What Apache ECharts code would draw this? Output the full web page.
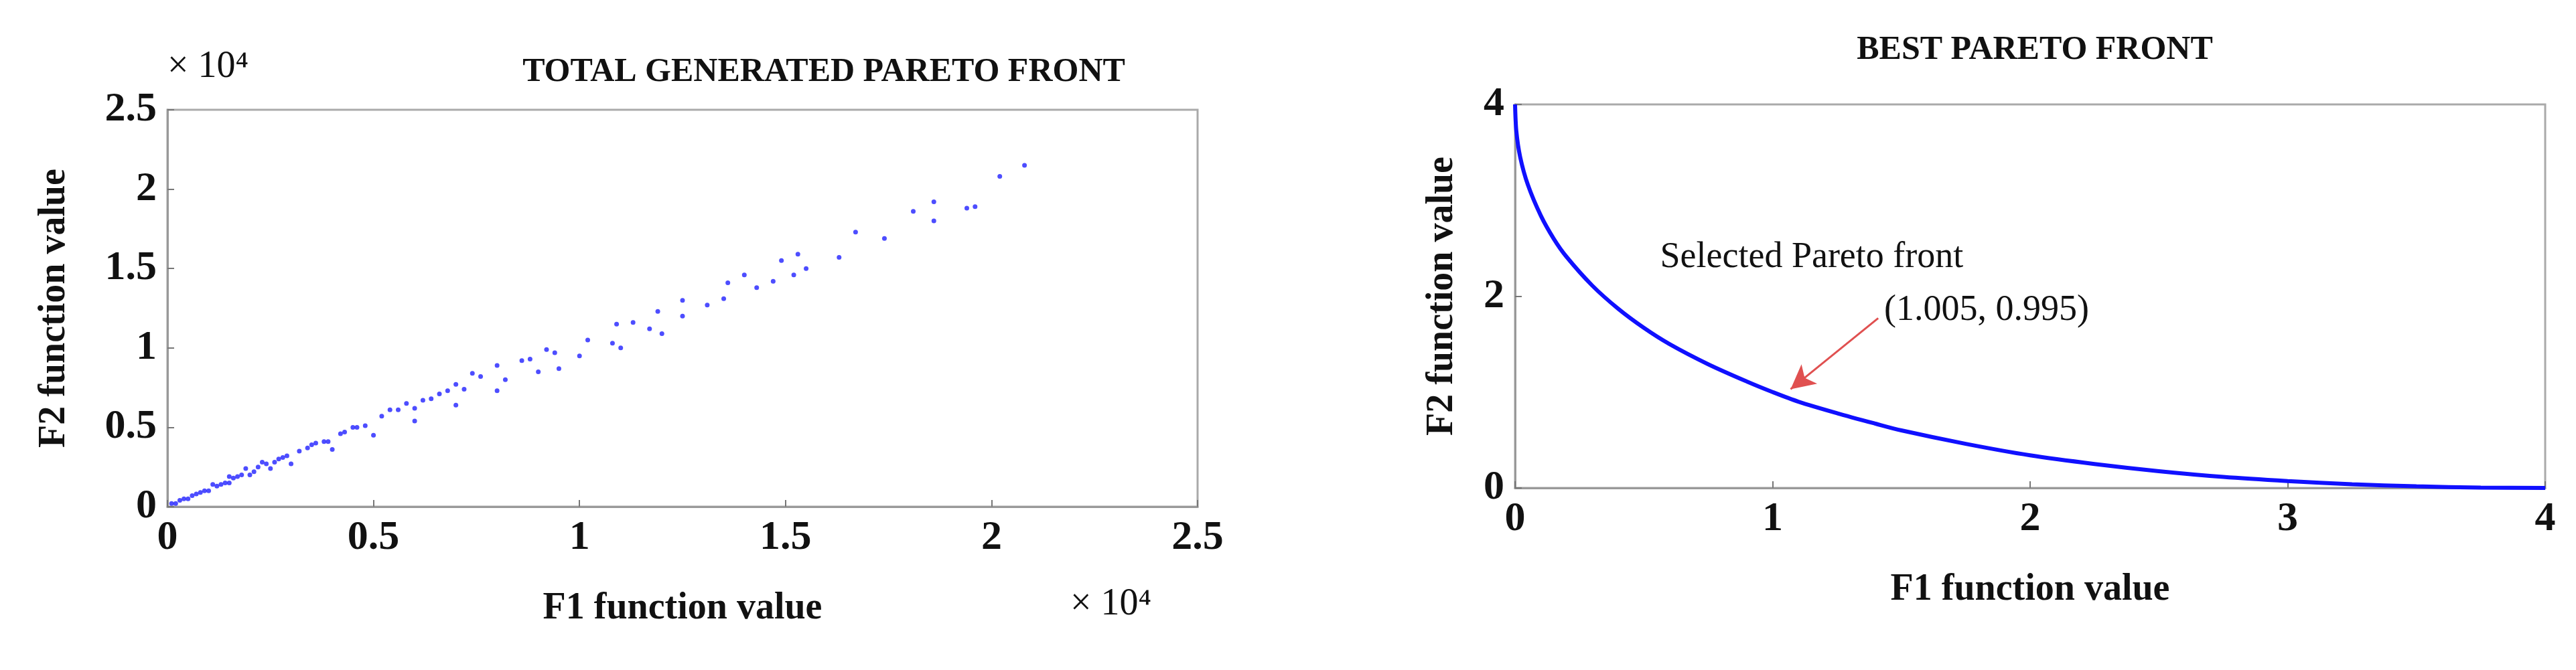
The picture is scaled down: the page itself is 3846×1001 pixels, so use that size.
<!DOCTYPE html>
<html><head><meta charset="utf-8">
<script src="https://cdn.jsdelivr.net/npm/echarts@6/dist/echarts.min.js"></script>
<style>html,body{margin:0;background:#fff}#c{width:3846px;height:1001px}</style>
</head><body><div id="c"></div>
<script>
// left: total generated front, values in units of 1e4
var totalF1 = [2.08,2.02,1.96,1.94,1.86,1.86,1.81,1.74,1.67,1.63,1.53,1.55,1.49,1.52,1.47,1.43,1.40,1.36,1.35,1.31,1.25,1.25,1.19,1.17,1.13,1.08,1.09,1.02,1.00,0.94,0.88,0.90,0.80,0.82,0.74,0.72,0.68,0.64,0.60,0.54,0.48,0.43,0.39,0.35,0.29,0.23,0.19,0.15,0.11,0.07,0.03,0.01,
  0.30,0.40,0.50,0.60,0.70,0.80,0.95,1.10,1.20,0.25,0.20,0.15,0.10,0.05,0.62,0.66,0.56,0.45,0.36,0.27,0.17,0.13,0.09,0.04,
  0.02,0.06,0.08,0.12,0.14,0.16,0.18,0.21,0.22,0.24,0.26,0.28,0.32,0.34,0.38,0.42,0.46,0.52,0.58,0.70,0.76,0.86,0.92];
var totalF2 = [2.15,2.08,1.89,1.88,1.92,1.80,1.86,1.69,1.73,1.57,1.59,1.50,1.55,1.46,1.42,1.38,1.46,1.41,1.31,1.27,1.30,1.20,1.23,1.12,1.16,1.03,1.15,1.05,0.95,0.97,0.93,0.85,0.89,0.80,0.84,0.74,0.73,0.68,0.62,0.61,0.51,0.47,0.41,0.39,0.32,0.28,0.24,0.19,0.14,0.08,0.04,0.02,
  0.27,0.36,0.45,0.54,0.64,0.73,0.87,1.00,1.09,0.24,0.20,0.15,0.10,0.05,0.67,0.71,0.61,0.50,0.40,0.30,0.19,0.14,0.10,0.05,
  0.02,0.07,0.09,0.13,0.15,0.18,0.20,0.22,0.25,0.27,0.28,0.31,0.35,0.37,0.41,0.46,0.50,0.57,0.65,0.77,0.82,0.92,0.99];
// right: best pareto front
var bestF1 = [0,0.005,0.02,0.05,0.1,0.15,0.2,0.3,0.4,0.5,0.6,0.75,0.9,1,1.1,1.25,1.4,1.5,1.75,2,2.25,2.5,2.75,3,3.25,3.5,3.75,4];
var bestF2 = [4,3.72,3.45,3.16,2.84,2.60,2.41,2.11,1.87,1.67,1.50,1.29,1.11,1.0,0.90,0.78,0.67,0.60,0.46,0.34,0.25,0.175,0.115,0.072,0.038,0.017,0.004,0];
var selected = [1.005, 0.995];

var serifB = {fontFamily:'Liberation Serif',fontWeight:'bold',color:'#111'};
function pts(a,b){return a.map(function(v,i){return [v,b[i]];});}
function axis(g,min,max,step,name,gap){
  return {gridIndex:g,type:'value',min:min,max:max,interval:step,name:name,nameLocation:'middle',nameGap:gap,
    nameTextStyle:Object.assign({fontSize:56},serifB),
    axisLabel:Object.assign({fontSize:62,margin:16},serifB),
    axisLine:{lineStyle:{color:'#999',width:3}},axisTick:{inside:true,length:10,lineStyle:{color:'#777',width:2}},
    splitLine:{show:false}};
}
var chart = echarts.init(document.getElementById('c'));
chart.setOption({
  animation:false,
  title:[
    {text:'TOTAL GENERATED PARETO FRONT',left:1225,top:78,textAlign:'center',textStyle:Object.assign({fontSize:50},serifB)},
    {text:'BEST PARETO FRONT',left:3033,top:45,textAlign:'center',textStyle:Object.assign({fontSize:50},serifB)}
  ],
  graphic:[
    {type:'text',left:250,top:72,style:{text:'× 10⁴',font:'56px Liberation Serif',fill:'#111'}},
    {type:'text',left:1598,top:875,style:{text:'× 10⁴',font:'56px Liberation Serif',fill:'#111'}}
  ],
  grid:[
    {left:250,width:1538,top:164,height:593,show:true,borderColor:'#aaa',borderWidth:3},
    {left:2262,width:1538,top:156,height:573,show:true,borderColor:'#aaa',borderWidth:3}
  ],
  xAxis:[axis(0,0,2.5,0.5,'F1 function value',125),axis(1,0,4,1,'F1 function value',125)],
  yAxis:[axis(0,0,2.5,0.5,'F2 function value',140),axis(1,0,4,2,'F2 function value',80)],
  series:[
    {type:'scatter',xAxisIndex:0,yAxisIndex:0,symbolSize:7,itemStyle:{color:'#2020ff'},data:pts(totalF1,totalF2)},
    {type:'line',xAxisIndex:1,yAxisIndex:1,smooth:0.3,symbol:'none',lineStyle:{color:'#1010ff',width:6},data:pts(bestF1,bestF2),
      markLine:{silent:true,symbol:['none','arrow'],symbolSize:[28,36],lineStyle:{color:'#e05050',width:3,type:'solid'},label:{show:false},
        data:[[{coord:[1.41,1.77]},{coord:[1.07,1.03]}]]},
      markPoint:{symbol:'rect',symbolSize:0,data:[
        {coord:[0.55,2.4],label:{show:true,formatter:'Selected Pareto front',position:'right',fontFamily:'Liberation Serif',fontSize:54,color:'#111'}},
        {coord:[1.42,1.85],label:{show:true,formatter:'('+selected[0]+', '+selected[1]+')',position:'right',fontFamily:'Liberation Serif',fontSize:54,color:'#111'}}
      ]}}
  ]
});
</script></body></html>
